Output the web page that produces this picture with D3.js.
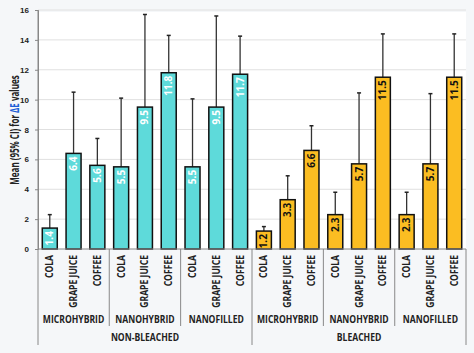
<!DOCTYPE html>
<html>
<head>
<meta charset="utf-8">
<script src="https://cdn.jsdelivr.net/npm/d3@7"></script>
<style>
  body { margin: 0; background: #f5f7f9; }
  svg { display: block; font-family: "Open Sans", "Noto Sans", sans-serif; }
</style>
</head>
<body>
<div id="chart"></div>
<script>
// Data
const treatments = ["NON-BLEACHED", "BLEACHED"];
const materials = ["MICROHYBRID", "NANOHYBRID", "NANOFILLED"];
const drinks = ["COLA", "GRAPE JUICE", "COFFEE"];
const meanNonBleached = [1.4, 6.4, 5.6, 5.5, 9.5, 11.8, 5.5, 9.5, 11.7];
const upperNonBleached = [2.3, 10.5, 7.4, 10.1, 15.7, 14.3, 10.05, 15.6, 14.25];
const meanBleached = [1.2, 3.3, 6.6, 2.3, 5.7, 11.5, 2.3, 5.7, 11.5];
const upperBleached = [1.5, 4.9, 8.25, 3.8, 10.45, 14.4, 3.8, 10.4, 14.4];
const yTicks = [0, 2, 4, 6, 8, 10, 12, 14, 16];

const colors = { "NON-BLEACHED": "#5edada", "BLEACHED": "#fbbd22" };

// build flat rows
const rows = [];
treatments.forEach((t, ti) => {
    const means = ti === 0 ? meanNonBleached : meanBleached;
    const uppers = ti === 0 ? upperNonBleached : upperBleached;
    materials.forEach((m, mi) => {
        drinks.forEach((d, di) => {
            const i = mi * 3 + di;
            rows.push({ key: t + "|" + m + "|" + d, treatment: t, material: m, drink: d, mean: means[i], upper: uppers[i] });
        });
    });
});

const W = 474, H = 353;
const margin = { top: 10, right: 8, bottom: 104, left: 38 };
const width = W - margin.left - margin.right;
const height = H - margin.top - margin.bottom;

const svg = d3.select("#chart")
    .append("svg")
    .attr("width", W)
    .attr("height", H);

const g = svg.append("g")
    .attr("transform", `translate(${margin.left},${margin.top})`);

// white plot area
g.append("rect")
    .attr("x", 0).attr("y", 2)
    .attr("width", width).attr("height", height - 2)
    .attr("fill", "#fff");

const x = d3.scaleBand()
    .domain(rows.map(d => d.key))
    .range([0, width])
    .paddingInner(0.37)
    .paddingOuter(0.18);

const y = d3.scaleLinear()
    .domain([0, 16])
    .range([height, 0]);

// gridlines
g.selectAll(".grid")
    .data(yTicks.filter(v => v > 0))
    .enter().append("line")
    .attr("x1", 0).attr("x2", width)
    .attr("y1", d => y(d)).attr("y2", d => y(d))
    .attr("stroke", "#e0e0e0")
    .attr("stroke-width", 1);

// Y axis
const yAxis = g.append("g")
    .call(d3.axisLeft(y).tickValues(yTicks).tickSize(3).tickPadding(6));
yAxis.select(".domain").attr("stroke", "#888");
yAxis.selectAll(".tick line").attr("stroke", "#888");
yAxis.selectAll("text")
    .style("font-size", "8px")
    .style("font-weight", "bold")
    .attr("fill", "#222");

// Y axis label (condensed, like the original Calibri)
const yLabel = svg.append("text")
    .attr("transform", `translate(18.5,130) rotate(-90) scale(0.64,1)`)
    .attr("text-anchor", "middle")
    .style("font-size", "12.5px")
    .style("font-weight", "bold")
    .attr("fill", "#222");
yLabel.append("tspan").text("Mean (95% CI) for ");
yLabel.append("tspan").attr("fill", "#1f5fd6").text("ΔE");
yLabel.append("tspan").text(" values");

// error bars (upper only)
g.selectAll(".err")
    .data(rows)
    .enter().append("line")
    .attr("x1", d => x(d.key) + x.bandwidth() / 2)
    .attr("x2", d => x(d.key) + x.bandwidth() / 2)
    .attr("y1", d => y(d.mean))
    .attr("y2", d => y(d.upper))
    .attr("stroke", "#333")
    .attr("stroke-width", 1.3);

g.selectAll(".cap")
    .data(rows)
    .enter().append("line")
    .attr("x1", d => x(d.key) + x.bandwidth() / 2 - 2)
    .attr("x2", d => x(d.key) + x.bandwidth() / 2 + 2)
    .attr("y1", d => y(d.upper))
    .attr("y2", d => y(d.upper))
    .attr("stroke", "#222")
    .attr("stroke-width", 1.5);

// bars
g.selectAll(".bar")
    .data(rows)
    .enter().append("rect")
    .attr("x", d => x(d.key))
    .attr("y", d => y(d.mean))
    .attr("width", x.bandwidth())
    .attr("height", d => height - y(d.mean))
    .attr("fill", d => colors[d.treatment])
    .attr("stroke", "#111")
    .attr("stroke-width", 1.5);

// value labels inside bars
g.selectAll(".val")
    .data(rows)
    .enter().append("text")
    .attr("transform", d => `translate(${x(d.key) + x.bandwidth() / 2 + 3.5},${y(d.mean) + 3}) rotate(-90)`)
    .attr("text-anchor", "end")
    .style("font-size", "10px")
    .style("font-weight", "bold")
    .attr("fill", d => d.treatment === "BLEACHED" ? "#111" : "#fff")
    .text(d => d.mean.toFixed(1));

// X axis line
g.append("line")
    .attr("x1", 0).attr("x2", width)
    .attr("y1", height).attr("y2", height)
    .attr("stroke", "#888");

// drink labels
g.selectAll(".drink")
    .data(rows)
    .enter().append("text")
    .attr("transform", d => `translate(${x(d.key) + x.bandwidth() / 2 + 3.5},${height + 6}) rotate(-90) scale(0.86,1)`)
    .attr("text-anchor", "end")
    .style("font-size", "10px")
    .style("font-weight", "bold")
    .attr("fill", "#222")
    .text(d => d.drink);

// material group separators and labels
const groups = [];
treatments.forEach(t => materials.forEach(m => groups.push({ treatment: t, material: m })));
const step = x.step();

groups.forEach((gr, i) => {
    const first = rows[i * 3], last = rows[i * 3 + 2];
    const left = x(first.key) - step * x.paddingInner() / 2;
    const cx = (x(first.key) + x(last.key) + x.bandwidth()) / 2;
    g.append("text")
        .attr("transform", `translate(${cx},${height + 74}) scale(0.86,1)`)
        .attr("text-anchor", "middle")
        .style("font-size", "10px")
        .style("font-weight", "bold")
        .attr("fill", "#222")
        .text(gr.material);
    if (i % 3 !== 0) {
        g.append("line")
            .attr("x1", left).attr("x2", left)
            .attr("y1", height).attr("y2", height + 77)
            .attr("stroke", "#888");
    }
});

// treatment separators and labels
treatments.forEach((t, ti) => {
    const first = rows[ti * 9], last = rows[ti * 9 + 8];
    const cx = (x(first.key) + x(last.key) + x.bandwidth()) / 2;
    g.append("text")
        .attr("transform", `translate(${cx},${height + 92}) scale(0.86,1)`)
        .attr("text-anchor", "middle")
        .style("font-size", "10px")
        .style("font-weight", "bold")
        .attr("fill", "#222")
        .text(t);
});
const midSep = x(rows[9].key) - step * x.paddingInner() / 2;
[0, midSep, width].forEach(px => {
    g.append("line")
        .attr("x1", px).attr("x2", px)
        .attr("y1", px === 0 ? 0 : height).attr("y2", height + 96)
        .attr("stroke", "#888");
});
</script>
</body>
</html>
